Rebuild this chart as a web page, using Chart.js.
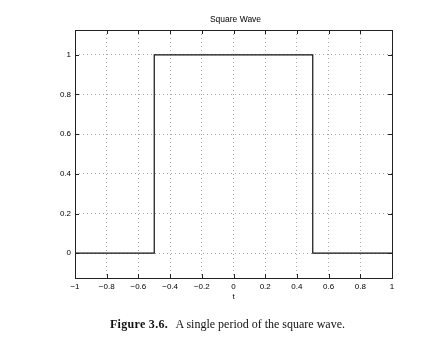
<!DOCTYPE html>
<html>
<head>
<meta charset="utf-8">
<script src="https://cdn.jsdelivr.net/npm/chart.js@4"></script>
<style>
  html, body { margin: 0; padding: 0; background: #fff; }
  #wrap { position: relative; width: 447px; height: 355px; }
  #c { position: absolute; left: 0; top: 0; }
  #caption { position: absolute; left: 0; width: 455px; top: 317px; text-align: center;
    font-family: "Liberation Serif", "DejaVu Serif", serif; font-size: 12px; color: #111; }
  #caption b { margin-right: 5px; letter-spacing: 0.3px; }
</style>
</head>
<body>
<div id="wrap">
  <canvas id="c" width="447" height="355"></canvas>
  <div id="caption"><b>Figure 3.6.</b> A single period of the square wave.</div>
</div>
<script>
const titleText = "Square Wave";
const xLabel = "t";
const tValues = [-1, -0.5, -0.5, 0.5, 0.5, 1];
const yValues = [0, 0, 1, 1, 0, 0];
const xTicks = [-1, -0.8, -0.6, -0.4, -0.2, 0, 0.2, 0.4, 0.6, 0.8, 1];
const yTicks = [0, 0.2, 0.4, 0.6, 0.8, 1];
const xRange = [-1, 1];
const yRange = [-0.125, 1.125];

function fmt(v) {
  const r = Math.round(v * 10) / 10;
  const s = String(Math.abs(r));
  return (r < 0 ? "\u2212" : "") + s;
}

const frame = {
  id: 'frame',
  afterDraw(chart) {
    const ctx = chart.ctx, a = chart.chartArea;
    const xs = chart.scales.x, ys = chart.scales.y;
    ctx.save();
    ctx.strokeStyle = '#222';
    ctx.lineWidth = 1;
    ctx.strokeRect(Math.round(a.left) + 0.5, Math.round(a.top) + 0.5,
                   Math.round(a.right - a.left), Math.round(a.bottom - a.top));
    const L = 4;
    ctx.beginPath();
    xTicks.forEach(v => {
      const px = Math.round(xs.getPixelForValue(v)) + 0.5;
      ctx.moveTo(px, a.top); ctx.lineTo(px, a.top + L);
      ctx.moveTo(px, a.bottom); ctx.lineTo(px, a.bottom - L);
    });
    yTicks.forEach(v => {
      const py = Math.round(ys.getPixelForValue(v)) + 0.5;
      ctx.moveTo(a.left, py); ctx.lineTo(a.left + L, py);
      ctx.moveTo(a.right, py); ctx.lineTo(a.right - L, py);
    });
    ctx.stroke();
    ctx.fillStyle = '#000';
    ctx.textAlign = 'center';
    ctx.textBaseline = 'middle';
    ctx.font = '8.5px "Liberation Sans", Arial, sans-serif';
    ctx.fillText(titleText, (a.left + a.right) / 2 + 2, a.top - 10);
    ctx.font = '8px "Liberation Sans", Arial, sans-serif';
    ctx.fillText(xLabel, (a.left + a.right) / 2, a.bottom + 19);
    ctx.restore();
  }
};

new Chart(document.getElementById('c'), {
  type: 'scatter',
  data: {
    datasets: [{
      data: tValues.map((t, i) => ({ x: t, y: yValues[i] })),
      showLine: true,
      borderColor: '#111',
      borderWidth: 1.2,
      pointRadius: 0,
      tension: 0,
      fill: false
    }]
  },
  options: {
    responsive: false,
    animation: false,
    devicePixelRatio: 1,
    layout: { padding: { left: 0, right: 55, top: 30, bottom: 0 } },
    plugins: { legend: { display: false }, tooltip: { enabled: false }, title: { display: false } },
    scales: {
      x: {
        type: 'linear', min: xRange[0], max: xRange[1],
        afterBuildTicks: s => { s.ticks = xTicks.map(v => ({ value: v })); },
        afterFit: s => { s.height = 77; },
        grid: { color: '#aaaaaa', lineWidth: 1, drawTicks: false },
        border: { display: false, dash: [1, 3] },
        ticks: { padding: 4, color: '#000', maxRotation: 0, autoSkip: false,
          font: { family: '"Liberation Sans", Arial, sans-serif', size: 8 },
          callback: v => fmt(v) }
      },
      y: {
        type: 'linear', min: yRange[0], max: yRange[1],
        afterBuildTicks: s => { s.ticks = yTicks.map(v => ({ value: v })); },
        afterFit: s => { s.width = 75; },
        grid: { color: '#aaaaaa', lineWidth: 1, drawTicks: false },
        border: { display: false, dash: [1, 3] },
        ticks: { padding: 4, color: '#000', autoSkip: false,
          font: { family: '"Liberation Sans", Arial, sans-serif', size: 8 },
          callback: v => fmt(v) }
      }
    }
  },
  plugins: [frame]
});
</script>
</body>
</html>
